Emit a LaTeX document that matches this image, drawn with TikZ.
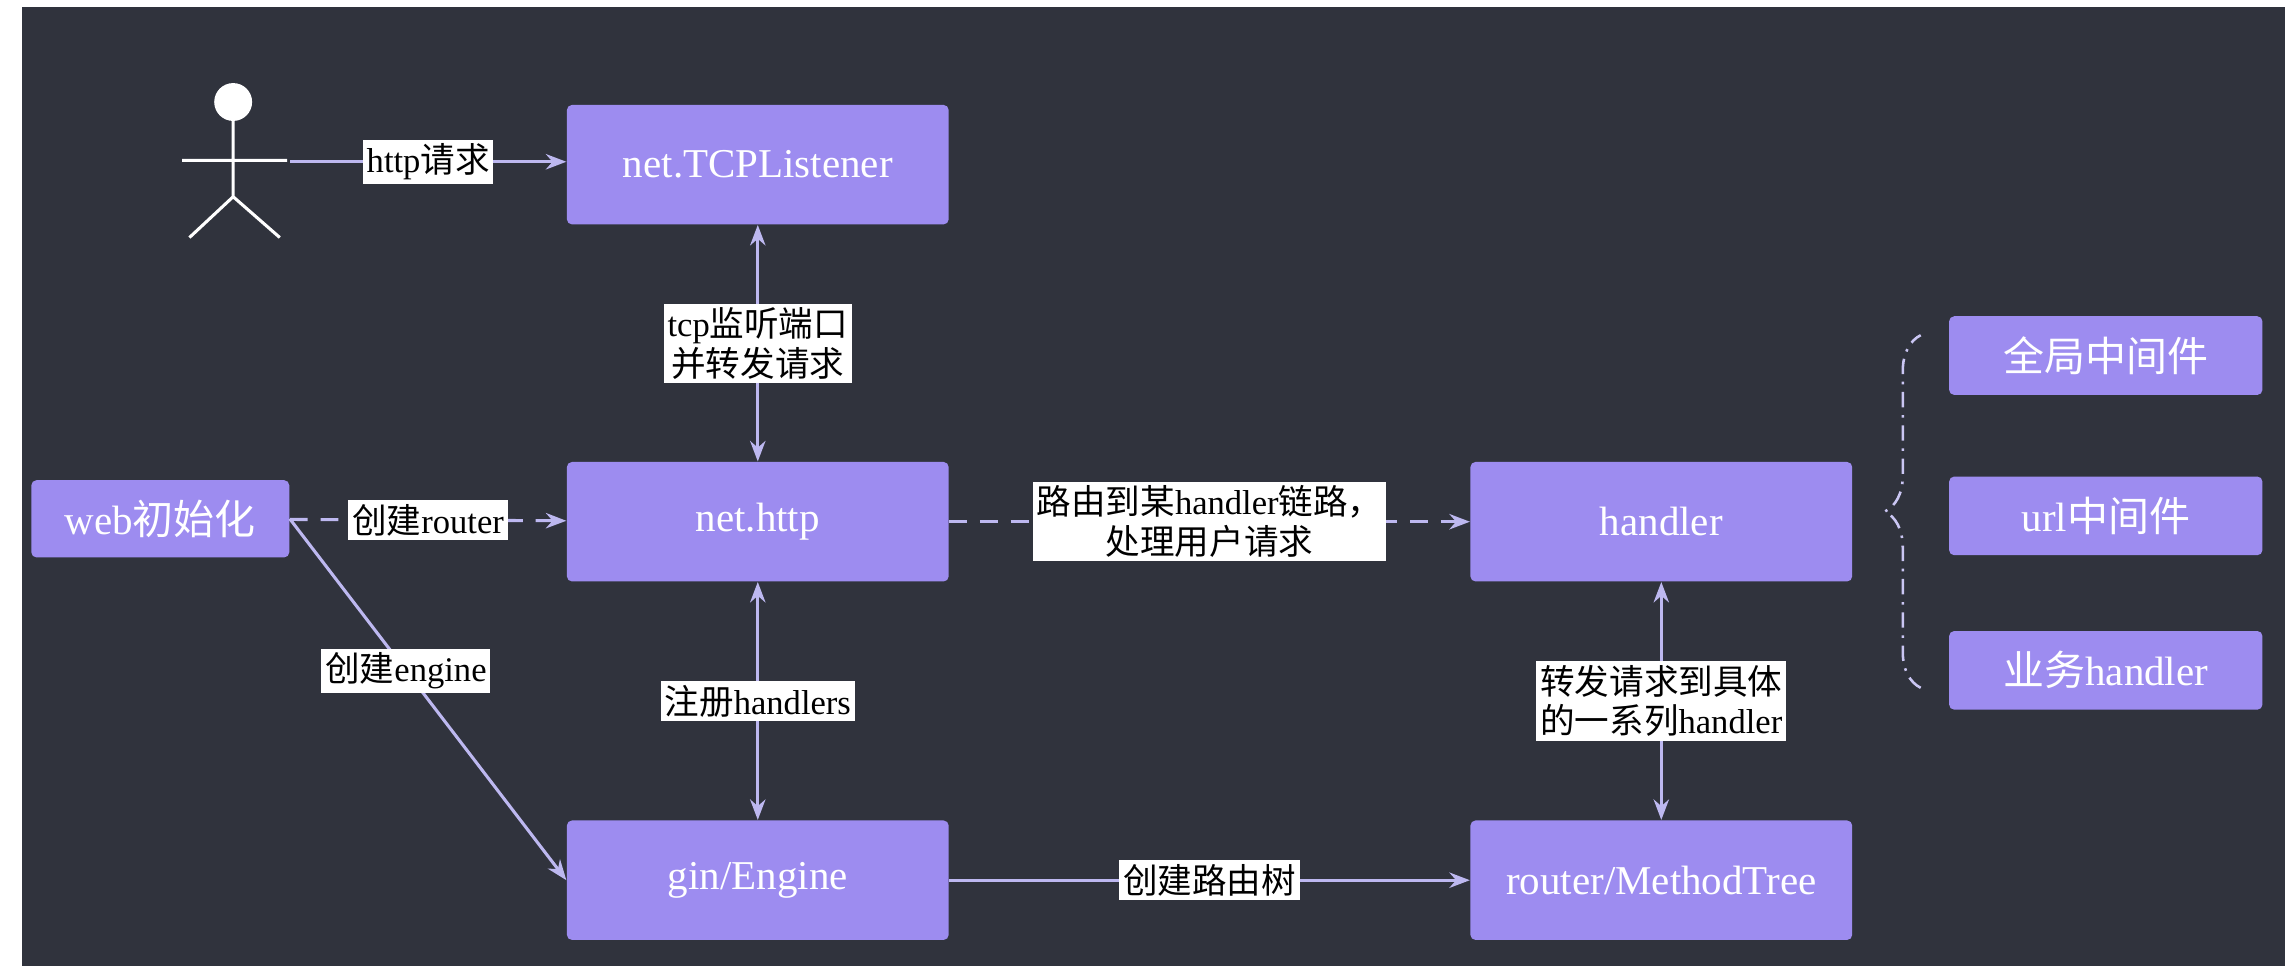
\documentclass[tikz,border=0pt]{standalone}
\usepackage{fontspec}
\setmainfont{Liberation Serif}
\newfontfamily\cjk{Noto Sans CJK SC}
\usetikzlibrary{arrows.meta,decorations.pathreplacing}
\definecolor{bg}{HTML}{30333D}
\definecolor{box}{HTML}{9D8CF0}
\definecolor{ln}{HTML}{BDB8F0}
\begin{document}
\begin{tikzpicture}[x=0.02cm,y=-0.02cm,
  bx/.style={fill=box,rounded corners=2pt,text=white,font=\fontsize{16}{18}\selectfont,minimum width=262*0.02cm,minimum height=82*0.02cm,inner sep=0},
  sb/.style={fill=box,rounded corners=2pt,text=white,font=\fontsize{16}{18}\selectfont,minimum width=215*0.02cm,minimum height=54*0.02cm,inner sep=0},
  lb/.style={fill=white,text=black,font=\fontsize{13.5}{15.5}\selectfont,inner sep=1.5pt,align=center},
  ar/.style={draw=ln,line width=1.2pt,-{Stealth[length=8pt]}},
  da/.style={ar,dashed,dash pattern=on 7pt off 5pt},
  dar/.style={draw=ln,line width=1.2pt,{Stealth[length=8pt]}-{Stealth[length=8pt]}}]
\useasboundingbox (0,0) rectangle (1568,663);
\fill[white] (0,0) rectangle (1568,663);
\fill[bg] (15,5) rectangle (1568,663);
\node[bx] (tcp) at (520,113) {net.TCPListener};
\node[bx] (http) at (520,358) {net.http};
\node[bx] (gin) at (520,604) {gin/Engine};
\node[bx] (h) at (1140,358) {handler};
\node[bx] (rt) at (1140,604) {router/MethodTree};
\node[fill=box,rounded corners=2pt,text=white,font=\fontsize{16}{18}\selectfont,minimum width=177*0.02cm,minimum height=53*0.02cm,inner sep=0] (web) at (110,356) {web{\cjk 初始化}};
\node[sb] (m1) at (1445,244) {\cjk 全局中间件};
\node[sb] (m2) at (1445,354) {url{\cjk 中间件}};
\node[sb] (m3) at (1445,460) {{\cjk 业务}handler};
% stick figure
\fill[white] (160,70) circle (13);
\draw[white,line width=1.2pt] (160,83) -- (160,135) (125,110) -- (197,110) (130,163) -- (160,135) -- (192,163);
\coordinate (p) at (199,111);
\draw[ar] (p) -- (tcp.west|-p) node[lb,midway] {http{\cjk 请求}};
\draw[dar] (tcp) -- (http) node[lb,midway] {tcp{\cjk 监听端口}\\{\cjk 并转发请求}};
\draw[dar] (http) -- (gin) node[lb,midway] {{\cjk 注册}handlers};
\draw[da] (web) -- (http) node[lb,midway] {{\cjk 创建}router};
\draw[ar] (web.east) -- (gin.west) node[lb,pos=0.42] {{\cjk 创建}engine};
\draw[da] (http) -- (h) node[lb,midway] {{\cjk 路由到某}handler{\cjk 链路，}\\{\cjk 处理用户请求}};
\draw[ar] (gin) -- (rt) node[lb,midway] {\cjk 创建路由树};
\draw[dar] (h) -- (rt) node[lb,midway] {{\cjk 转发请求到具体}\\{\cjk 的一系列}handler};
\draw[ln!80!white,line width=1pt,dash pattern=on 6pt off 3pt on 1pt off 3pt,decorate,decoration={brace,amplitude=14}] (1318,472) -- (1318,230);
\end{tikzpicture}
\end{document}
